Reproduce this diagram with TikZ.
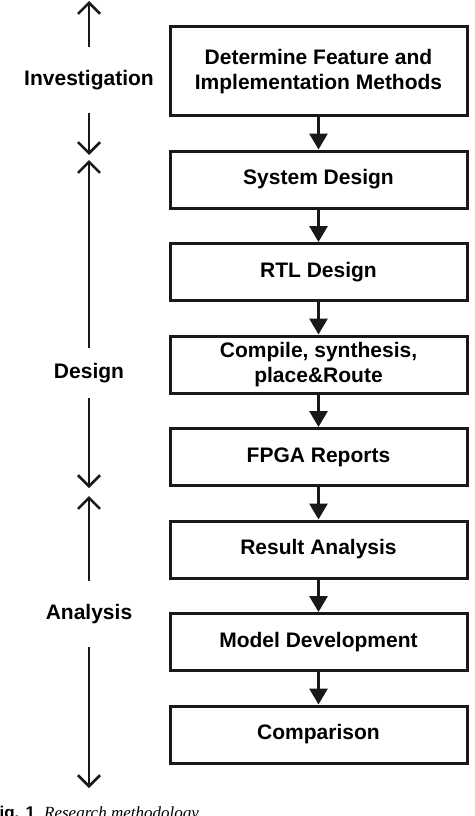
\documentclass[tikz,border=0pt]{standalone}
\usepackage{fontspec}
\setmainfont{Liberation Serif}
\setsansfont{Liberation Sans}
\usepackage{tikz}
\usetikzlibrary{arrows.meta,positioning}

\begin{document}
\begin{tikzpicture}[x=1pt, y=-1pt,
  font=\sffamily\bfseries\fontsize{21}{25}\selectfont,
  stage/.style={draw=black!90, line width=3pt, minimum width=297pt,
    minimum height=57pt, align=center, inner sep=0pt},
  phaseLabel/.style={inner xsep=2pt, inner ysep=23pt},
  flow/.style={-{Triangle[length=16pt,width=18pt]}, line width=3pt, draw=black!90},
  phase/.style={-{Straight Barb[length=11pt,width=22pt]}, line width=2.6pt, draw=black!90}
]
  \useasboundingbox (0,0) rectangle (474,816);

  % method steps
  \node[stage, minimum height=88.5pt] (featureMethods) at (318.5,71.25)
    {Determine Feature and\\Implementation Methods};
  \node[stage, below=32.5pt of featureMethods] (systemDesign) {System Design};
  \node[stage, below=32.5pt of systemDesign] (rtlDesign) {RTL Design};
  \node[stage, below=32.5pt of rtlDesign] (compileRoute) {Compile, synthesis,\\place\&Route};
  \node[stage, below=32.5pt of compileRoute] (fpgaReports) {FPGA Reports};
  \node[stage, below=32.5pt of fpgaReports] (resultAnalysis) {Result Analysis};
  \node[stage, below=32.5pt of resultAnalysis] (modelDev) {Model Development};
  \node[stage, below=32.5pt of modelDev] (comparison) {Comparison};

  \draw[flow] (featureMethods) -- (systemDesign);
  \draw[flow] (systemDesign) -- (rtlDesign);
  \draw[flow] (rtlDesign) -- (compileRoute);
  \draw[flow] (compileRoute) -- (fpgaReports);
  \draw[flow] (fpgaReports) -- (resultAnalysis);
  \draw[flow] (resultAnalysis) -- (modelDev);
  \draw[flow] (modelDev) -- (comparison);

  % phases on the left
  \node[phaseLabel] (investigationLabel) at (89,80) {Investigation};
  \node[phaseLabel, inner ysep=15pt] (designLabel) at (89,373) {Design};
  \node[phaseLabel] (analysisLabel) at (89,614) {Analysis};

  \coordinate (investigationTop) at (89,1);
  \coordinate (investigationEnd) at (89,155);
  \coordinate (designTop) at (89,160);
  \coordinate (designEnd) at (89,488);
  \coordinate (analysisTop) at (89,496);
  \coordinate (analysisEnd) at (89,788);

  \draw[phase] (investigationLabel) -- (investigationTop);
  \draw[phase] (investigationLabel) -- (investigationEnd);
  \draw[phase] (designLabel) -- (designTop);
  \draw[phase] (designLabel) -- (designEnd);
  \draw[phase] (analysisLabel) -- (analysisTop);
  \draw[phase] (analysisLabel) -- (analysisEnd);

  % caption, cut by the page edge
  \node[anchor=base west, inner sep=0pt, font=\sffamily\bfseries\fontsize{17}{20}\selectfont]
    (figCaption) at (-11,818)
    {Fig. 1\hspace{9pt}{\rmfamily\mdseries\itshape Research methodology}};
\end{tikzpicture}
\end{document}
